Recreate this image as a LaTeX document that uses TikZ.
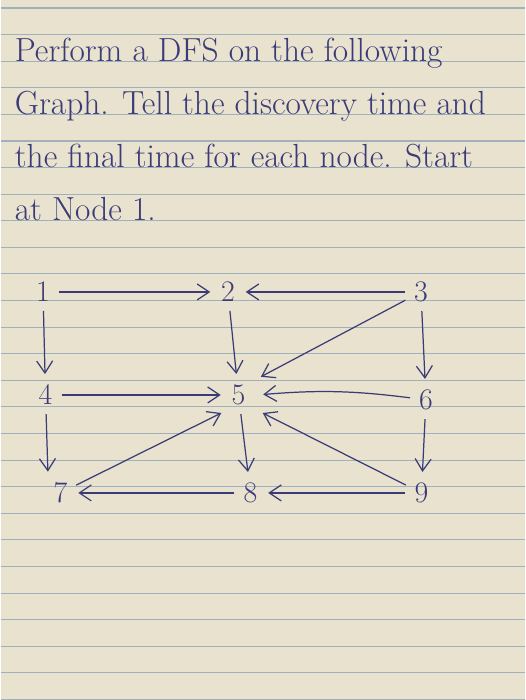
\documentclass[tikz,border=0pt]{standalone}
\usepackage{tikz}
\usetikzlibrary{positioning,arrows.meta}

\definecolor{ink}{HTML}{3B3B78}
\definecolor{paper}{HTML}{E8E2CE}
\definecolor{ruling}{HTML}{9EB1BD}

\tikzset{
  vertex/.style={text=ink,font=\fontsize{17}{20}\selectfont,inner sep=3pt},
  arc/.style={draw=ink,line width=0.7pt,shorten >=3pt,shorten <=2pt,
    -{Straight Barb[length=2.4mm,width=3.2mm]}},
  remark/.style={text=ink,font=\fontsize{19}{22}\selectfont,anchor=base west,inner sep=0pt}
}

\begin{document}
\begin{tikzpicture}[auto,node distance=2cm,on grid]
				% the sheet of ruled paper
				\fill[paper] (0,0) rectangle (10.5,-14);
				\foreach \k in {0,...,26}
								\draw[ruling,line width=0.6pt] (0,-0.16-0.532*\k) -- (10.5,-0.16-0.532*\k);
				\useasboundingbox (0,0) rectangle (10.5,-14);
				% the question, on every second line
				\node[remark] (q1) at (0.28,-1.224) {Perform a DFS on the following};
				\node[remark] (q2) at (0.28,-2.288) {Graph. Tell the discovery time and};
				\node[remark] (q3) at (0.28,-3.352) {the final time for each node. Start};
				\node[remark] (q4) at (0.28,-4.416) {at Node 1.};
				% Now the top row (ID=n1..n3)
				\node[vertex] (n1) at (0.85,-5.84) {1};
				\node[vertex] (n2) [right=3.7cm of n1] {2};
				\node[vertex] (n3) [right=3.86cm of n2] {3};
				% middle row
				\node[vertex] (n4) [below right=2.06cm and 0.05cm of n1] {4};
				\node[vertex] (n5) [right=3.86cm of n4] {5};
				\node[vertex] (n6) [below right=2.16cm and 0.1cm of n3] {6};
				% bottom row
				\node[vertex] (n7) [below right=1.96cm and 0.3cm of n4] {7};
				\node[vertex] (n8) [right=3.8cm of n7] {8};
				\node[vertex] (n9) [right=3.42cm of n8] {9};
				% Draw the directed edges
				\path (n1) edge[arc] (n2)
							edge[arc] (n4);
				\path (n3) edge[arc] (n2)
							edge[arc] ([xshift=3pt]n5.north east)
							edge[arc] (n6);
				\path (n2) edge[arc] (n5);
				\path (n4) edge[arc] (n5)
							edge[arc] (n7.north west);
				\path (n6) edge[arc,bend right=6] ([xshift=4pt]n5.east)
							edge[arc] (n9);
				\path (n7) edge[arc] (n5.south west);
				\path (n5) edge[arc] (n8);
				\path (n8) edge[arc] (n7);
				\path (n9) edge[arc] ([xshift=4pt]n5.south east)
							edge[arc] (n8);
\end{tikzpicture}
\end{document}
